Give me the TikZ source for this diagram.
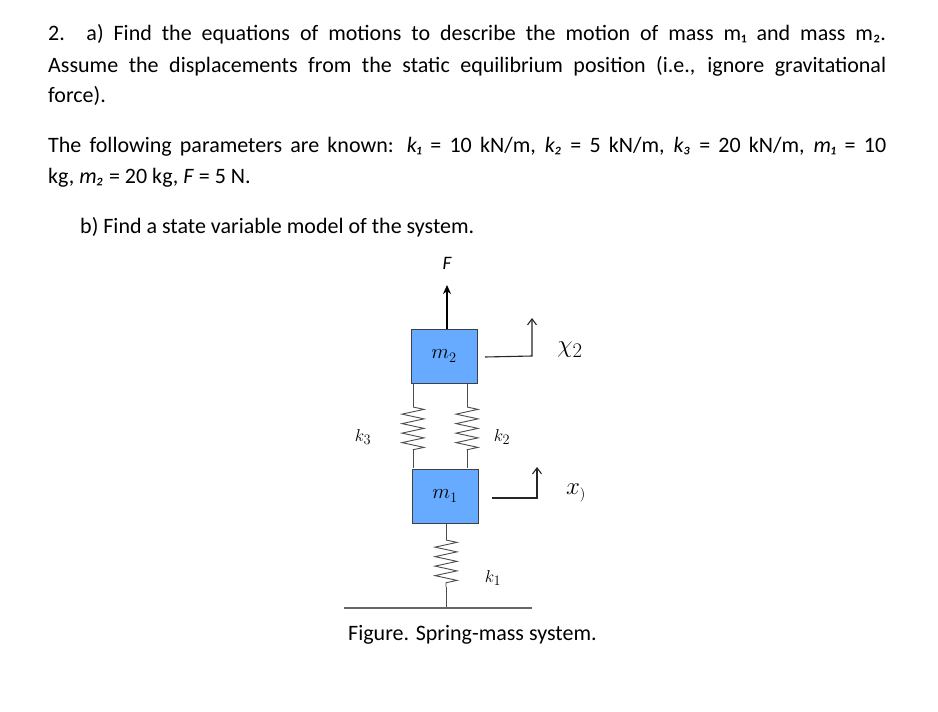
\documentclass[tikz,border=0pt]{standalone}
\usepackage{fontspec}
\setmainfont{Carlito}
\usetikzlibrary{arrows.meta,decorations.pathmorphing}
\begin{document}
\begin{tikzpicture}[x=1pt,y=-1pt,
  txt/.style={anchor=base west,inner sep=0pt,font=\fontsize{22}{26}\selectfont},
  lbl/.style={inner sep=0pt,font=\fontsize{19}{22}\selectfont\itshape},
  mass/.style={draw=black!75,line width=1pt,fill=blue!55!cyan!60!white,minimum width=66pt,minimum height=54pt,inner sep=0pt,font=\fontsize{20}{22}\selectfont\itshape},
  spring/.style={draw=black!70,line width=0.9pt,decorate,decoration={zigzag,segment length=9.5pt,amplitude=11pt,pre length=0pt,post length=0pt}},
  wire/.style={draw=black!70,line width=0.9pt},
  hand/.style={draw=black!85,line width=1.1pt}]
\useasboundingbox (0,0) rectangle (938,712);
\fill[white] (0,0) rectangle (938,712);
\node[txt] (l1) at (48,40) {\makebox[838pt][s]{2. a) Find the equations of motions to describe the motion of mass m₁ and mass m₂.}};
\node[txt] (l2) at (48,72) {\makebox[838pt][s]{Assume the displacements from the static equilibrium position (i.e., ignore gravitational}};
\node[txt] (l3) at (48,102) {force).};
\node[txt] (l4) at (48,152) {\makebox[838pt][s]{The following parameters are known: \textit{k₁} = 10 kN/m, \textit{k₂} = 5 kN/m, \textit{k₃} = 20 kN/m, \textit{m₁} = 10}};
\node[txt] (l5) at (48,183) {kg, \textit{m₂} = 20 kg, \textit{F} = 5 N.};
\node[txt] (l6) at (80,233) {b) Find a state variable model of the system.};
\node[txt] (cap) at (348,640) {Figure. Spring-mass system.};
% masses
\node[mass] (m2) at (444,356) {$m_2$};
\node[mass] (m1) at (445,496) {$m_1$};
\coordinate (ftip) at (447,285);
\draw[line width=1.6pt,-{Stealth[length=9pt,width=8pt]}] (m2.north -| ftip) -- (ftip);
\node[lbl] (F) at (447,263) {F};
% springs k3,k2
\coordinate (a3) at (413,383); \coordinate (b3) at (413,468);
\coordinate (a2) at (467,383); \coordinate (b2) at (467,468);
\draw[wire] (a3) -- (413,407); \draw[spring] (413,407) -- (413,450); \draw[wire] (413,450) -- (b3);
\draw[wire] (a2) -- (467,407); \draw[spring] (467,407) -- (467,450); \draw[wire] (467,450) -- (b2);
\node[lbl] (k3) at (363,437) {$k_3$};
\node[lbl] (k2) at (502,437) {$k_2$};
% k1
\coordinate (g) at (446,608);
\draw[wire] (m1.south -| g) -- (446,540); \draw[spring] (446,540) -- (446,587); \draw[wire] (446,587) -- (g);
\node[lbl] (k1) at (493,578) {$k_1$};
% ground
\draw[draw=black!60,line width=2.5pt] (344,608) -- (532,608);
% displacement marks
\coordinate (x2a) at (485,357); \coordinate (x2b) at (532,356); \coordinate (x2c) at (532,318);
\draw[hand,-{Straight Barb[length=6pt,width=9pt]}] (x2a) -- (x2b) -- (x2c);
\node[inner sep=0pt,font=\fontsize{30}{30}\selectfont] (x2) at (570,350) {$\chi_2$};
\coordinate (x1a) at (492,498); \coordinate (x1b) at (537,498); \coordinate (x1c) at (537,467);
\draw[hand,-{Straight Barb[length=6pt,width=9pt]}] (x1a) -- (x1b) -- (x1c);
\node[inner sep=0pt,font=\fontsize{30}{30}\selectfont] (x1) at (576,493) {$x_{\scriptscriptstyle )}$};
\end{tikzpicture}
\end{document}
